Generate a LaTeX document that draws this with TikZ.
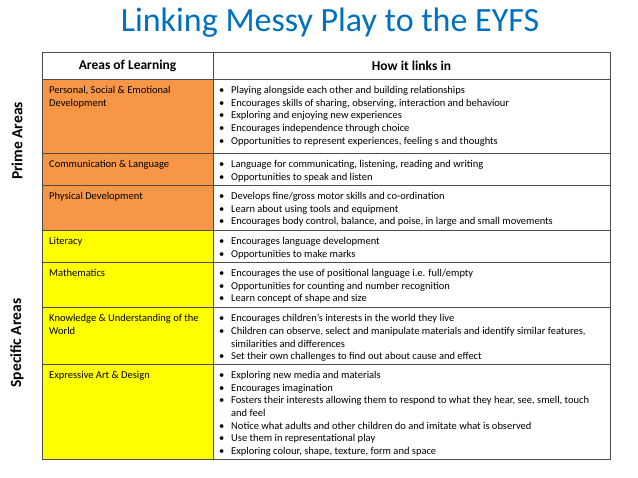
\documentclass[tikz,border=0pt]{standalone}
\usepackage{fontspec}
\setmainfont{Carlito}
\definecolor{ttl}{HTML}{0070C0}
\definecolor{org}{HTML}{F79646}
\definecolor{yel}{HTML}{FFFF00}
\newcommand\bl{\makebox[12pt][l]{•}}
\newcommand\ct{\hspace*{12pt}}
\begin{document}
\begin{tikzpicture}[x=1pt,y=-1pt,
 cell/.style={draw=black!70,line width=0.8pt},
 lab/.style={anchor=north west,inner sep=0pt,font=\fontsize{10.5}{12.7}\selectfont,align=left},
 lst/.style={anchor=north west,inner sep=0pt,font=\fontsize{10.5}{12.7}\selectfont,align=left},
 side/.style={rotate=90,font=\fontsize{15.5}{17}\selectfont\bfseries}]
\useasboundingbox (0,0) rectangle (638,478);
\node (title) at (330,23) {\fontsize{34}{38}\selectfont\color{ttl}Linking Messy Play to the EYFS};
\fill[org] (42,79) rectangle (213,230);
\fill[yel] (42,230) rectangle (213,459);
\foreach \a/\b in {52/79,79/153,153/185,185/230,230/262,262/307,307/364,364/459}{
 \draw[cell] (42,\a) rectangle (213,\b);
 \draw[cell] (213,\a) rectangle (610,\b);}
\node[font=\fontsize{13.5}{15}\selectfont\bfseries] (h1) at (127.5,66) {Areas of Learning};
\node[font=\fontsize{13.5}{15}\selectfont\bfseries] (h2) at (411.5,66) {How it links in};
\node[side] (prime) at (17,141) {Prime Areas};
\node[side] (spec) at (17,343) {Specific Areas};
\node[lab] (a1) at (49,86) {Personal, Social \& Emotional\\Development};
\node[lab] (a2) at (49,160) {Communication \& Language};
\node[lab] (a3) at (49,192) {Physical Development};
\node[lab] (a4) at (49,237) {Literacy};
\node[lab] (a5) at (49,269) {Mathematics};
\node[lab] (a6) at (49,314) {Knowledge \& Understanding of the\\World};
\node[lab] (a7) at (49,371) {Expressive Art \& Design};
\node[lst] (b1) at (219,86) {\bl Playing alongside each other and building relationships\\\bl Encourages skills of sharing, observing, interaction and behaviour\\\bl Exploring and enjoying new experiences\\\bl Encourages independence through choice\\\bl Opportunities to represent experiences, feeling s and thoughts};
\node[lst] (b2) at (219,160) {\bl Language for communicating, listening, reading and writing\\\bl Opportunities to speak and listen};
\node[lst] (b3) at (219,192) {\bl Develops fine/gross motor skills and co-ordination\\\bl Learn about using tools and equipment\\\bl Encourages body control, balance, and poise, in large and small movements};
\node[lst] (b4) at (219,237) {\bl Encourages language development\\\bl Opportunities to make marks};
\node[lst] (b5) at (219,269) {\bl Encourages the use of positional language i.e. full/empty\\\bl Opportunities for counting and number recognition\\\bl Learn concept of shape and size};
\node[lst] (b6) at (219,314) {\bl Encourages children’s interests in the world they live\\\bl Children can observe, select and manipulate materials and identify similar features,\\\ct similarities and differences\\\bl Set their own challenges to find out about cause and effect};
\node[lst] (b7) at (219,371) {\bl Exploring new media and materials\\\bl Encourages imagination\\\bl Fosters their interests allowing them to respond to what they hear, see, smell, touch\\\ct and feel\\\bl Notice what adults and other children do and imitate what is observed\\\bl Use them in representational play\\\bl Exploring colour, shape, texture, form and space};
\end{tikzpicture}
\end{document}
